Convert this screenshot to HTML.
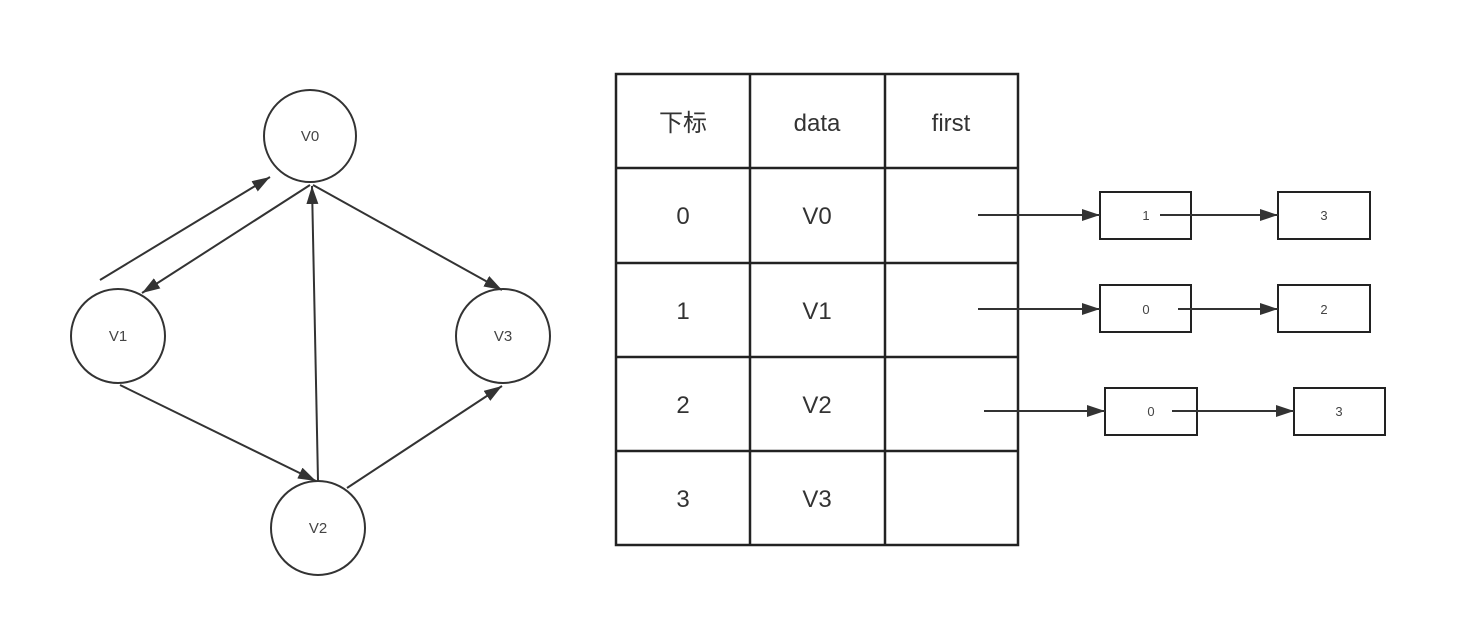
<!DOCTYPE html>
<html><head><meta charset="utf-8"><style>
html,body{margin:0;padding:0;background:#fff;}
svg{display:block}
text{font-family:"Liberation Sans","Noto Sans CJK SC",sans-serif;}
</style></head><body>
<svg width="1458" height="641" viewBox="0 0 1458 641" xmlns="http://www.w3.org/2000/svg">
<defs>
<marker id="a" viewBox="0 0 10 10" refX="10" refY="5" markerWidth="7" markerHeight="7" markerUnits="userSpaceOnUse" orient="auto">
<path d="M0,0 L10,5 L0,10 z" fill="#333"/></marker>
<marker id="b" viewBox="0 0 10 10" refX="10" refY="5" markerWidth="18" markerHeight="12" markerUnits="userSpaceOnUse" orient="auto" preserveAspectRatio="none">
<path d="M0,0 L10,5 L0,10 z" fill="#333"/></marker>
</defs>
<g fill="none" stroke="#333" stroke-width="2">
<circle cx="310" cy="136" r="46"/>
<circle cx="118" cy="336" r="47"/>
<circle cx="503" cy="336" r="47"/>
<circle cx="318" cy="528" r="47"/>
<line x1="100" y1="280" x2="270" y2="177" marker-end="url(#b)"/>
<line x1="310" y1="185" x2="142" y2="293" marker-end="url(#b)"/>
<line x1="313" y1="185" x2="502" y2="290" marker-end="url(#b)"/>
<line x1="318" y1="481" x2="312" y2="186" marker-end="url(#b)"/>
<line x1="120" y1="385" x2="316" y2="481" marker-end="url(#b)"/>
<line x1="347" y1="488" x2="502" y2="386" marker-end="url(#b)"/>
</g>
<g font-size="15" fill="#444" text-anchor="middle">
<text x="310" y="141">V0</text>
<text x="118" y="341">V1</text>
<text x="503" y="341">V3</text>
<text x="318" y="533">V2</text>
</g>
<g fill="none" stroke="#222" stroke-width="2.5">
<rect x="616" y="74" width="402" height="471"/>
<line x1="750" y1="74" x2="750" y2="545"/>
<line x1="885" y1="74" x2="885" y2="545"/>
<line x1="616" y1="168" x2="1018" y2="168"/>
<line x1="616" y1="263" x2="1018" y2="263"/>
<line x1="616" y1="357" x2="1018" y2="357"/>
<line x1="616" y1="451" x2="1018" y2="451"/>
</g>
<g font-size="24" fill="#333" text-anchor="middle">
<text x="683" y="131">下标</text>
<text x="817" y="131">data</text>
<text x="951" y="131">first</text>
<text x="683" y="224">0</text><text x="817" y="224">V0</text>
<text x="683" y="319">1</text><text x="817" y="319">V1</text>
<text x="683" y="413">2</text><text x="817" y="413">V2</text>
<text x="683" y="507">3</text><text x="817" y="507">V3</text>
</g>
<g fill="none" stroke="#222" stroke-width="2">
<rect x="1100" y="192" width="91" height="47"/>
<rect x="1278" y="192" width="92" height="47"/>
<rect x="1100" y="285" width="91" height="47"/>
<rect x="1278" y="285" width="92" height="47"/>
<rect x="1105" y="388" width="92" height="47"/>
<rect x="1294" y="388" width="91" height="47"/>
</g>
<g stroke="#333" stroke-width="2">
<line x1="978" y1="215" x2="1100" y2="215" marker-end="url(#b)"/>
<line x1="1160" y1="215" x2="1278" y2="215" marker-end="url(#b)"/>
<line x1="978" y1="309" x2="1100" y2="309" marker-end="url(#b)"/>
<line x1="1178" y1="309" x2="1278" y2="309" marker-end="url(#b)"/>
<line x1="984" y1="411" x2="1105" y2="411" marker-end="url(#b)"/>
<line x1="1172" y1="411" x2="1294" y2="411" marker-end="url(#b)"/>
</g>
<g font-size="13" fill="#444" text-anchor="middle">
<text x="1146" y="220">1</text><text x="1324" y="220">3</text>
<text x="1146" y="314">0</text><text x="1324" y="314">2</text>
<text x="1151" y="416">0</text><text x="1339" y="416">3</text>
</g>
</svg>
</body></html>
